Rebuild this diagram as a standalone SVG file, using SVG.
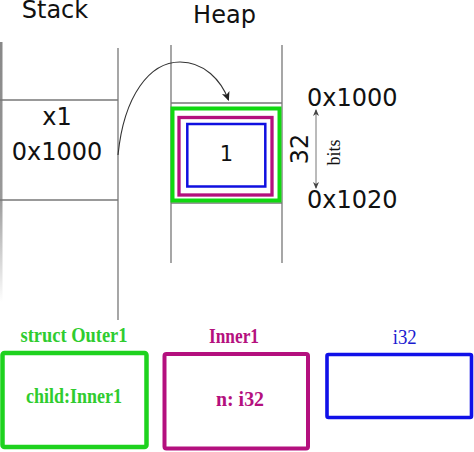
<svg xmlns="http://www.w3.org/2000/svg" width="474" height="452" viewBox="0 0 474 452">
<style>
.col{stroke:#777;stroke-width:1.3;fill:none}
.big{font-family:"DejaVu Sans",sans-serif;font-size:24px;fill:#111}
.slab{font-family:"Liberation Serif",serif;font-weight:bold;font-size:20px}
.g{fill:#2fcc2f}.m{fill:#b4107e}.b{fill:#1a1ad0}
</style>
<defs>
<linearGradient id="fade" x1="0" y1="0" x2="0" y2="1">
<stop offset="0" stop-color="#888"/>
<stop offset="0.6" stop-color="#999"/>
<stop offset="1" stop-color="#fff"/>
</linearGradient>
<marker id="ah" markerWidth="10" markerHeight="10" refX="8" refY="5" orient="auto" markerUnits="userSpaceOnUse">
<path d="M0,1 L9,5 L0,9 L2.5,5 Z" fill="#222"/>
</marker>
<marker id="sa" markerWidth="8" markerHeight="8" refX="6" refY="4" orient="auto-start-reverse" markerUnits="userSpaceOnUse">
<path d="M0,1 L7,4 L0,7 L2,4 Z" fill="#444"/>
</marker>
</defs>
<rect width="474" height="452" fill="#fff"/>

<g id="stack">
<text class="big" x="55" y="18" text-anchor="middle">Stack</text>
<rect x="0" y="42" width="2.5" height="260" fill="url(#fade)"/>
<line class="col" x1="118" y1="48" x2="118" y2="320"/>
<line class="col" x1="0" y1="100" x2="118" y2="100"/>
<line class="col" x1="0" y1="200" x2="118" y2="200"/>
<text class="big" x="57" y="125" text-anchor="middle">x1</text>
<text class="big" x="57" y="160" text-anchor="middle">0x1000</text>
</g>

<g id="heap">
<text class="big" x="224.5" y="23" text-anchor="middle">Heap</text>
<line class="col" x1="171" y1="45" x2="171" y2="263"/>
<line class="col" x1="282" y1="45" x2="282" y2="263"/>
<line class="col" x1="171" y1="103" x2="282" y2="103"/>
<line class="col" x1="171" y1="203" x2="282" y2="203"/>
<rect x="172.5" y="108.5" width="107" height="92" fill="#fff" stroke="#10d810" stroke-width="4"/>
<rect x="179" y="117.5" width="93" height="77.5" fill="none" stroke="#b4107e" stroke-width="3.3"/>
<rect x="187.3" y="124" width="78" height="62.5" fill="none" stroke="#1010e0" stroke-width="2.5"/>
<text class="big" x="226.5" y="160.5" text-anchor="middle" style="font-size:21px">1</text>
</g>

<g id="addresses">
<text class="big" x="307" y="106">0x1000</text>
<text class="big" x="307" y="208">0x1020</text>
<text class="big" transform="translate(308,149) rotate(-90)" text-anchor="middle">32</text>
<text transform="translate(339.5,152.5) rotate(-90)" text-anchor="middle" style="font-family:'Liberation Serif',serif;font-size:18px;fill:#111">bits</text>
</g>

<g id="connectors">
<path d="M118,155 C124,95 150,62 180,62 C204,62 221,80 228.5,100" fill="none" stroke="#333" stroke-width="1.1" marker-end="url(#ah)"/>
<line x1="316" y1="110" x2="316" y2="188" stroke="#777" stroke-width="1" marker-start="url(#sa)" marker-end="url(#sa)"/>
</g>

<g id="outer1">
<text class="slab g" x="74" y="342" text-anchor="middle" textLength="107" lengthAdjust="spacingAndGlyphs">struct  Outer1</text>
<rect x="2.5" y="353" width="144" height="94" rx="2" fill="none" stroke="#1ed21e" stroke-width="4.5"/>
<text class="slab g" x="74" y="403" text-anchor="middle" textLength="96" lengthAdjust="spacingAndGlyphs">child:Inner1</text>
</g>

<g id="inner1">
<text class="slab m" x="234" y="343" text-anchor="middle" textLength="50" lengthAdjust="spacingAndGlyphs">Inner1</text>
<rect x="164.5" y="354" width="143.5" height="94.5" rx="2" fill="none" stroke="#b4107e" stroke-width="4"/>
<text class="slab m" x="240" y="406" text-anchor="middle" textLength="48" lengthAdjust="spacingAndGlyphs">n:  i32</text>
</g>

<g id="i32">
<text class="slab b" x="404.7" y="344" text-anchor="middle" textLength="24" lengthAdjust="spacingAndGlyphs" style="font-weight:normal">i32</text>
<rect x="327" y="354.5" width="144.5" height="63" rx="1.5" fill="none" stroke="#1010e8" stroke-width="3.6"/>
</g>
</svg>
